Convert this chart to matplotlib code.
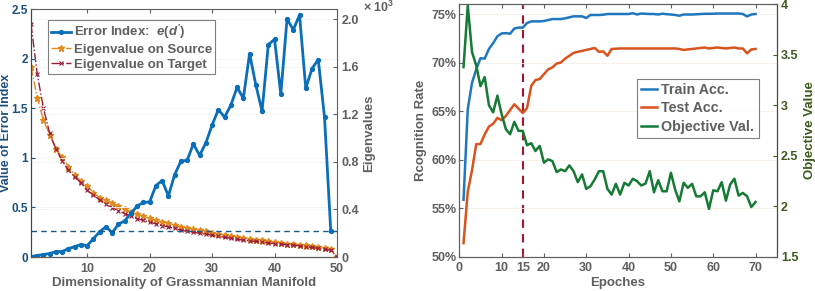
import matplotlib
matplotlib.use("Agg")
import matplotlib.pyplot as plt
import numpy as np

plt.rcParams['font.family'] = ['Liberation Sans', 'DejaVu Sans']
plt.rcParams['font.weight'] = 'bold'
plt.rcParams['axes.labelweight'] = 'bold'
plt.rcParams['mathtext.fontset'] = 'custom'
plt.rcParams['mathtext.it'] = 'Liberation Sans:italic:bold'
plt.rcParams['mathtext.rm'] = 'Liberation Sans:bold'

# ---------------- Left panel data ----------------
dims = list(range(1, 51))
error_dims = list(range(1, 50))
error_index = [0.005, 0.015, 0.025, 0.035, 0.055, 0.055, 0.085, 0.105, 0.125, 0.115,
               0.185, 0.255, 0.305, 0.245, 0.33, 0.365, 0.44, 0.515, 0.55, 0.555,
               0.72, 0.77, 0.615, 0.83, 0.965, 0.975, 1.14, 1.025, 1.15, 1.33,
               1.485, 1.41, 1.53, 1.71, 1.60, 2.05, 1.735, 1.47, 2.14, 2.195,
               1.64, 2.40, 2.29, 2.44, 1.70, 1.90, 1.99, 1.41, 0.26]
threshold = 0.263
eig_source = [1.60, 1.34, 1.15, 1.03, 0.905, 0.84, 0.76, 0.69, 0.64, 0.60,
              0.54, 0.50, 0.483, 0.455, 0.427, 0.40, 0.382, 0.362, 0.343, 0.326,
              0.309, 0.295, 0.284, 0.27, 0.256, 0.244, 0.236, 0.228, 0.219, 0.205,
              0.194, 0.185, 0.177, 0.169, 0.160, 0.152, 0.146, 0.140, 0.135, 0.126,
              0.121, 0.112, 0.107, 0.104, 0.098, 0.090, 0.081, 0.073, 0.067, 0.0]
eig_target = [1.96, 1.54, 1.25, 1.04, 0.91, 0.81, 0.73, 0.675, 0.625, 0.56,
              0.52, 0.48, 0.445, 0.415, 0.39, 0.365, 0.345, 0.323, 0.308, 0.293,
              0.279, 0.265, 0.253, 0.240, 0.226, 0.216, 0.208, 0.200, 0.192, 0.183,
              0.174, 0.166, 0.158, 0.150, 0.142, 0.136, 0.131, 0.125, 0.119, 0.113,
              0.108, 0.103, 0.098, 0.093, 0.087, 0.080, 0.072, 0.064, 0.057, 0.0]

# ---------------- Right panel data ----------------
epochs = list(range(1, 71))
train_acc = [55.86, 65.2, 67.9, 69.3, 70.45, 70.4, 71.4, 72.0, 72.7, 73.0,
             73.03, 72.97, 73.5, 73.6, 73.6, 74.07, 74.24, 74.24, 74.24, 74.28,
             74.38, 74.48, 74.48, 74.48, 74.55, 74.66, 74.76, 74.76, 74.76, 74.59,
             74.9, 74.9, 74.9, 74.93, 75.0, 75.0, 75.0, 75.0, 75.0, 75.0,
             75.08, 74.95, 75.05, 75.02, 75.0, 75.0, 74.95, 75.03, 74.98, 74.95,
             74.9, 74.82, 74.95, 74.95, 74.95, 74.97, 75.0, 75.02, 75.02, 75.03,
             75.05, 75.05, 75.05, 75.05, 75.05, 75.05, 75.0, 74.75, 74.95, 75.0]
test_acc = [51.4, 56.7, 58.9, 61.6, 61.6, 62.6, 63.4, 63.7, 64.3, 64.06,
            64.5, 65.1, 65.7, 65.25, 64.8, 65.3, 67.6, 68.2, 68.3, 68.8,
            69.3, 69.5, 69.9, 70.0, 70.4, 70.7, 71.0, 71.1, 71.2, 71.3,
            71.4, 71.5, 71.1, 71.15, 70.7, 71.4, 71.42, 71.45, 71.45, 71.45,
            71.45, 71.45, 71.45, 71.45, 71.45, 71.45, 71.45, 71.45, 71.45, 71.45,
            71.45, 71.4, 71.3, 71.35, 71.4, 71.45, 71.5, 71.55, 71.45, 71.5,
            71.55, 71.5, 71.45, 71.5, 71.55, 71.45, 71.45, 70.95, 71.35, 71.4]
objective = [3.378, 3.987, 3.528, 3.394, 3.189, 3.279, 3.0, 2.93, 3.095, 2.913,
             2.763, 2.713, 2.836, 2.746, 2.746, 2.604, 2.624, 2.547, 2.597, 2.431,
             2.464, 2.447, 2.338, 2.364, 2.347, 2.404, 2.347, 2.238, 2.315, 2.172,
             2.198, 2.265, 2.347, 2.347, 2.172, 2.115, 2.222, 2.115, 2.232, 2.205,
             2.272, 2.248, 2.205, 2.225, 2.347, 2.138, 2.258, 2.148, 2.148, 2.331,
             2.165, 2.048, 2.232, 2.182, 2.222, 2.098, 2.098, 2.138, 1.973, 2.158,
             2.148, 2.238, 2.055, 2.215, 2.272, 2.105, 2.132, 2.098, 1.992, 2.042]
split_epoch = 15

# ---------------- Styling ----------------
GRAY = '#5f5f5f'
DARKBLUE = '#1d4f7c'
BLUE = '#0a6eb8'
ORANGE = '#e08a1e'
DARKRED = '#9b1c3a'
TRAIN = '#1f77c0'
TEST = '#d9531e'
GREEN = '#157a34'
DGREEN = '#3c5a1c'
FS = 9

fig = plt.figure(figsize=(8.15, 2.91), dpi=100)

# ===== Left panel =====
ax1 = fig.add_axes([31 / 815, 1 - 257 / 291, 306 / 815, 248 / 291])
ax2 = ax1.twinx()
ax1.set_zorder(ax2.get_zorder() + 1)
ax1.patch.set_visible(False)

l1, = ax1.plot(error_dims, error_index, '-', color=BLUE, lw=2, marker='o', ms=2.8,
               label="Error Index:  $e(d')$")
ax1.axhline(threshold, color='#1b5a86', lw=1, ls=(0, (4, 3)))
l2, = ax2.plot(dims, eig_source, '-.', color=ORANGE, lw=1, marker='*', ms=5,
               label='Eigenvalue on Source')
l3, = ax2.plot(dims, eig_target, '-.', color=DARKRED, lw=1, marker='x', ms=2.5,
               mew=0.8, label='Eigenvalue on Target')

ax1.set_xlim(1, 50)
ax1.set_ylim(0, 2.5)
ax2.set_ylim(0, 2.087)
ax1.set_xticks([10, 20, 30, 40, 50])
ax1.set_yticks([0, 0.5, 1, 1.5, 2, 2.5])
ax1.set_yticklabels(['0', '0.5', '1', '1.5', '2', '2.5'])
ax2.set_yticks([0, 0.4, 0.8, 1.2, 1.6, 2.0])
ax2.set_yticklabels(['0', '0.4', '0.8', '1.2', '1.6', '2.0'])
ax1.grid(axis='y', color='#f2f2f2', lw=0.6)
ax2.grid(axis='y', color='#f2f2f2', lw=0.6)

ax1.tick_params(axis='x', direction='in', top=True, colors=GRAY, labelsize=FS, length=3, pad=4)
ax1.tick_params(axis='y', direction='in', colors=DARKBLUE, labelsize=FS - 0.5, length=3, pad=2)
ax2.tick_params(axis='y', direction='in', colors=GRAY, labelsize=FS, length=3, pad=3)
for sp in ['top', 'bottom']:
    ax1.spines[sp].set_color(GRAY)
ax2.spines['left'].set_color(DARKBLUE)
ax2.spines['right'].set_color(GRAY)
ax1.spines['left'].set_color(DARKBLUE)
ax1.spines['right'].set_visible(False)
ax2.spines['top'].set_visible(False)

ax1.set_xlabel('Dimensionality of Grassmannian Manifold', color=GRAY, fontsize=FS + 0.5,
               labelpad=2)
ax1.set_ylabel('Value of Error Index', color=DARKBLUE, fontsize=FS)
ax1.yaxis.set_label_coords(-0.061, 0.5)
ax2.set_ylabel('Eigenvalues', color=GRAY, fontsize=FS + 0.5, labelpad=3)
ax2.text(1.085, 1.005, r'$\times\;10^3$', transform=ax2.transAxes, color=GRAY,
         fontsize=FS, ha='left', va='center')

leg1 = ax1.legend(handles=[l1, l2, l3], loc='upper left', bbox_to_anchor=(0.056, 0.957),
                  prop={'size': FS + 0.5, 'weight': 'bold'}, frameon=True, fancybox=False,
                  edgecolor=GRAY, handlelength=1.5, handletextpad=0.2, borderpad=0.25,
                  labelspacing=0.2, borderaxespad=0)
leg1.get_frame().set_linewidth(0.8)
for t in leg1.get_texts():
    t.set_color(GRAY)

# ===== Right panel =====
ax3 = fig.add_axes([459.3 / 815, 1 - 256.7 / 291, 317.4 / 815, 252.4 / 291])
ax4 = ax3.twinx()

ax3.axvline(split_epoch, color='#a4162b', lw=1.5, ls=(0, (4, 3)), zorder=1)
r1, = ax3.plot(epochs, [v / 100 for v in train_acc], color=TRAIN, lw=1.8, label='Train Acc.')
r2, = ax3.plot(epochs, [v / 100 for v in test_acc], color=TEST, lw=1.8, label='Test Acc.')
r3, = ax4.plot(epochs, objective, color=GREEN, lw=1.8, label='Objective Val.')

ax3.set_xlim(0, 75)
ax3.set_ylim(0.5, 0.76)
ax4.set_ylim(1.5, 4.0)
ax3.set_xticks([0, 10, 15, 20, 30, 40, 50, 60, 70])
ax3.set_yticks([0.50, 0.55, 0.60, 0.65, 0.70, 0.75])
ax3.set_yticklabels(['50%', '55%', '60%', '65%', '70%', '75%'])
ax4.set_yticks([1.5, 2, 2.5, 3, 3.5, 4])
ax4.set_yticklabels(['1.5', '2', '2.5', '3', '3.5', '4'])
ax3.grid(axis='y', color='#f6efe6', lw=0.6)

ax3.tick_params(axis='x', direction='in', top=True, colors=GRAY, labelsize=FS, length=3, pad=4)
ax3.tick_params(axis='y', direction='in', colors=GRAY, labelsize=FS, length=3, pad=2)
ax4.tick_params(axis='y', direction='in', colors=DGREEN, labelsize=FS, length=3, pad=3)
for sp in ['top', 'bottom', 'left']:
    ax3.spines[sp].set_color(GRAY)
ax4.spines['left'].set_color(GRAY)
ax4.spines['top'].set_color(GRAY)
ax4.spines['bottom'].set_color(GRAY)
ax4.spines['right'].set_color(DGREEN)

ax3.set_xlabel('Epoches', color=GRAY, fontsize=FS + 0.5, labelpad=2)
ax3.set_ylabel('Rcognition Rate', color=GRAY, fontsize=FS + 0.5, labelpad=3)
ax4.set_ylabel('Objective Value', color=DGREEN, fontsize=FS + 0.5, labelpad=4)

leg2 = ax4.legend(handles=[r1, r2, r3], loc='upper left', bbox_to_anchor=(0.56, 0.705),
                  prop={'size': FS + 1.3, 'weight': 'bold'}, frameon=True, fancybox=False,
                  edgecolor=GRAY, handlelength=1.1, handletextpad=0.3, borderpad=0.3,
                  labelspacing=0.3, borderaxespad=0)
leg2.get_frame().set_linewidth(0.8)
for t in leg2.get_texts():
    t.set_color(GRAY)

fig.savefig('out.png', dpi=100)
